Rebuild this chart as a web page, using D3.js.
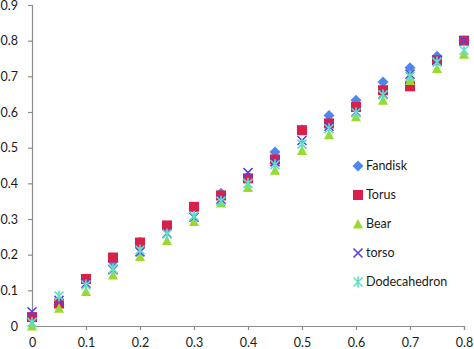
<!DOCTYPE html>
<html>
<head>
<meta charset="utf-8">
<script src="https://cdn.jsdelivr.net/npm/d3@7"></script>
<style>
  html, body { margin: 0; padding: 0; background: #fff; }
  svg { display: block; }
  text { font-family: Lato, "Open Sans", sans-serif; fill: #1a1a1a; }
</style>
</head>
<body>
<svg id="chart" width="474" height="349"></svg>
<script>
// Sample positions along the x axis
const xValues = [0, 0.05, 0.1, 0.15, 0.2, 0.25, 0.3, 0.35, 0.4, 0.45, 0.5, 0.55, 0.6, 0.65, 0.7, 0.75, 0.8];

// Measured values per model
const fandisk      = [0.02, 0.06, 0.13, 0.18, 0.235, 0.28, 0.33, 0.372, 0.41, 0.488, 0.55, 0.59, 0.633, 0.684, 0.724, 0.756, 0.80];
const torus        = [0.025, 0.063, 0.132, 0.192, 0.234, 0.282, 0.334, 0.366, 0.414, 0.467, 0.549, 0.568, 0.614, 0.661, 0.672, 0.745, 0.80];
const bear         = [0.0, 0.05, 0.097, 0.143, 0.195, 0.24, 0.293, 0.345, 0.388, 0.437, 0.492, 0.536, 0.587, 0.633, 0.688, 0.722, 0.762];
const torso        = [0.04, 0.072, 0.12, 0.158, 0.208, 0.26, 0.305, 0.355, 0.43, 0.46, 0.52, 0.56, 0.60, 0.65, 0.706, 0.745, 0.80];
const dodecahedron = [0.01, 0.084, 0.115, 0.16, 0.213, 0.258, 0.308, 0.35, 0.40, 0.452, 0.51, 0.553, 0.598, 0.648, 0.70, 0.74, 0.773];

const seriesNames = ["Fandisk", "Torus", "Bear", "torso", "Dodecahedron"];
const seriesValues = [fandisk, torus, bear, torso, dodecahedron];
const seriesColors = ["#4f86ec", "#d9204a", "#9ad92e", "#5b3fe2", "#5ee0c2"];
const seriesMarkers = ["diamond", "square", "triangle", "x", "star"];

const xTicks = [0, 0.1, 0.2, 0.3, 0.4, 0.5, 0.6, 0.7, 0.8];
const yTicks = [0, 0.1, 0.2, 0.3, 0.4, 0.5, 0.6, 0.7, 0.8, 0.9];

const svg = d3.select("#chart");
const x = d3.scaleLinear().domain([0, 0.8]).range([32, 464]);
const y = d3.scaleLinear().domain([0, 0.9]).range([326, 5]);

// Marker outlines, centred on the origin
function markerPath(kind) {
  const p = d3.path();
  if (kind === "diamond") {
    p.moveTo(0, -5.5); p.lineTo(5.5, 0); p.lineTo(0, 5.5); p.lineTo(-5.5, 0); p.closePath();
  } else if (kind === "square") {
    p.rect(-5, -5, 10, 10);
  } else if (kind === "triangle") {
    p.moveTo(0, -5); p.lineTo(5, 4.5); p.lineTo(-5, 4.5); p.closePath();
  } else if (kind === "x") {
    p.moveTo(-4.5, -4.5); p.lineTo(4.5, 4.5); p.moveTo(4.5, -4.5); p.lineTo(-4.5, 4.5);
  } else {
    p.moveTo(-4.5, -4.5); p.lineTo(4.5, 4.5); p.moveTo(4.5, -4.5); p.lineTo(-4.5, 4.5);
    p.moveTo(0, -5.5); p.lineTo(0, 5.5);
  }
  return p.toString();
}
const stroked = k => k === "x" || k === "star";

// Axes
const axisColor = "#8c8c8c";
const yAxis = svg.append("g").attr("transform", "translate(32,0)")
  .call(d3.axisLeft(y).tickValues(yTicks).tickFormat(d => d === 0 ? "0" : d3.format(".1f")(d)).tickSize(4).tickPadding(10));
const xAxis = svg.append("g").attr("transform", "translate(0,326)")
  .call(d3.axisBottom(x).tickValues(xTicks).tickFormat(d => d === 0 ? "0" : d3.format(".1f")(d)).tickSize(4).tickPadding(8));
[xAxis, yAxis].forEach(g => {
  g.select(".domain").attr("stroke", axisColor).attr("stroke-width", 1.2);
  g.selectAll(".tick line").attr("stroke", axisColor).attr("stroke-width", 1.2);
  g.selectAll(".tick text").attr("font-size", 12.5).attr("font-family", "Lato, sans-serif").attr("fill", "#1a1a1a");
});

// Points, later series on top
seriesValues.forEach((vals, i) => {
  const kind = seriesMarkers[i];
  svg.append("g").selectAll("path").data(vals).join("path")
    .attr("transform", (d, j) => `translate(${x(xValues[j])},${y(d)})`)
    .attr("d", markerPath(kind))
    .attr("fill", stroked(kind) ? "none" : seriesColors[i])
    .attr("stroke", stroked(kind) ? seriesColors[i] : "none")
    .attr("stroke-width", 1.6);
});

// Legend
const legend = svg.append("g");
seriesNames.forEach((name, i) => {
  const yy = 166 + i * 29;
  const kind = seriesMarkers[i];
  legend.append("path")
    .attr("transform", `translate(358,${yy})`)
    .attr("d", markerPath(kind))
    .attr("fill", stroked(kind) ? "none" : seriesColors[i])
    .attr("stroke", stroked(kind) ? seriesColors[i] : "none")
    .attr("stroke-width", 1.6);
  legend.append("text")
    .attr("x", 366).attr("y", yy).attr("dy", "0.35em")
    .attr("font-size", 12.5)
    .text(name);
});
</script>
</body>
</html>
